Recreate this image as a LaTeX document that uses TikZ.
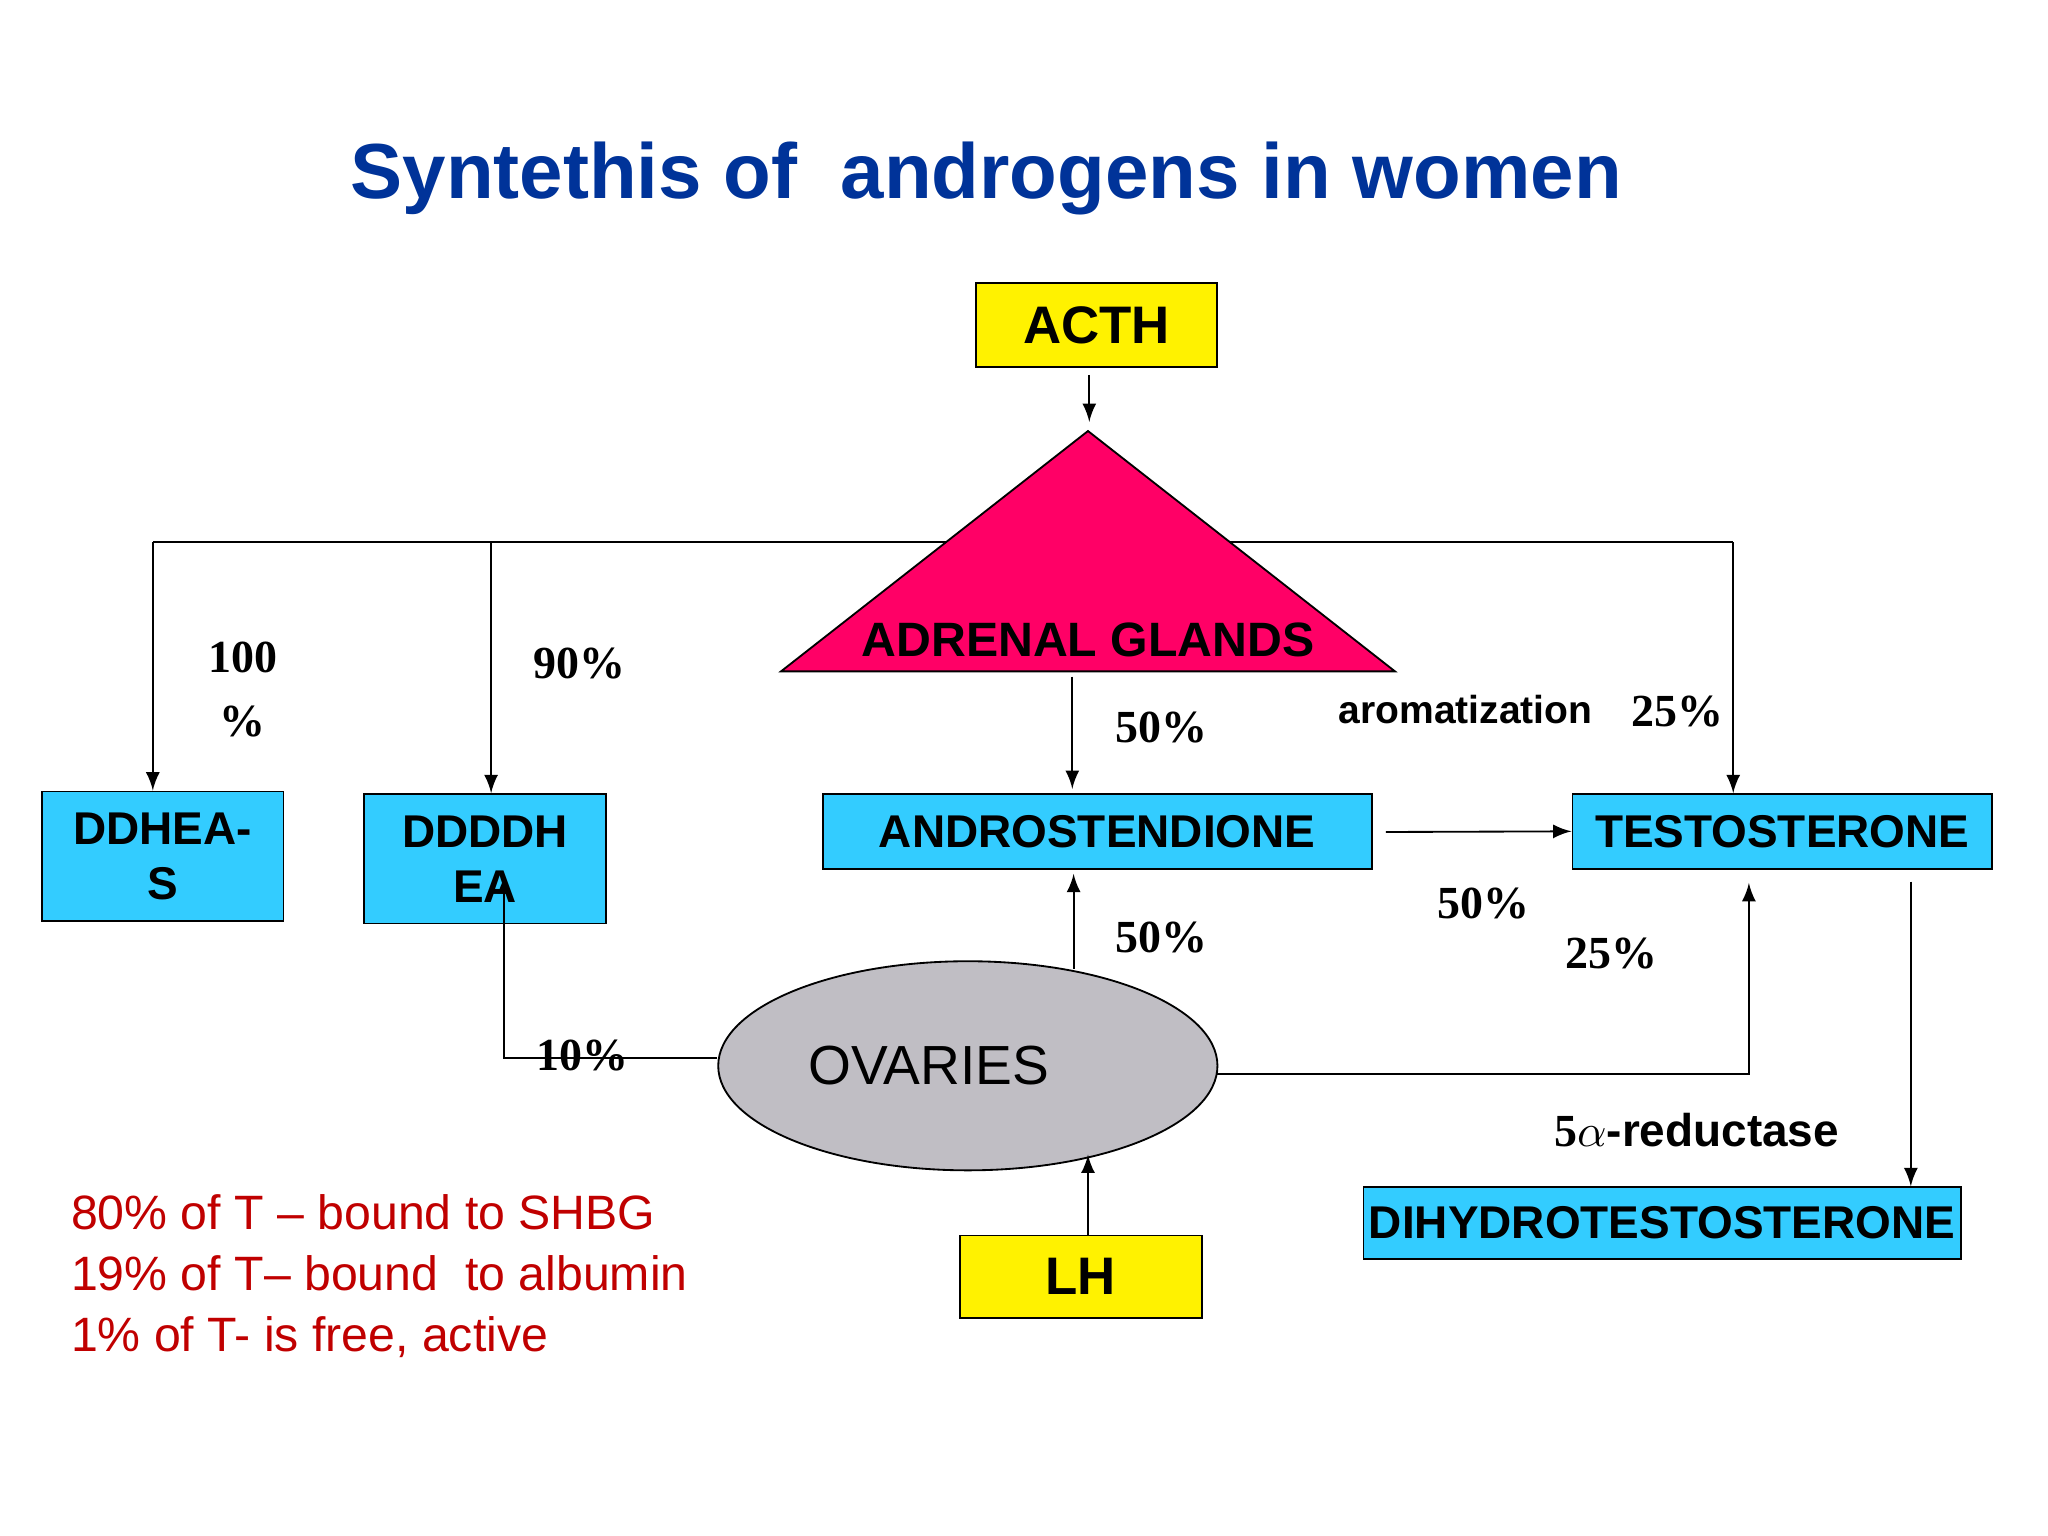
\documentclass[tikz,border=0pt]{standalone}
\usepackage{fontspec}
\usetikzlibrary{shapes.geometric}
\setmainfont{Liberation Serif}
\setsansfont{Liberation Sans}
\begin{document}
\begin{tikzpicture}[x=0.01cm,y=-0.01cm,
  box/.style={draw=black,fill=boxc,font=\sffamily\bfseries\fontsize{10}{12}\selectfont,align=center,inner sep=0pt},
  ybox/.style={draw=black,fill=yellow,font=\sffamily\bfseries\fontsize{11.5}{13}\selectfont,inner sep=0pt},
  pct/.style={font=\rmfamily\bfseries\fontsize{10}{12}\selectfont},
  arr/.style={-latex,black,thin},
  ln/.style={black,thin}]
\definecolor{tblue}{RGB}{0,51,153}
\definecolor{boxc}{RGB}{51,204,255}
\definecolor{pinkc}{RGB}{255,0,102}
\definecolor{grayc}{RGB}{192,190,196}
\definecolor{redc}{RGB}{192,0,0}
\useasboundingbox (0,0) rectangle (1568,1176);
\node[font=\sffamily\bfseries\fontsize{17}{20}\selectfont,text=tblue] (title) at (755,137) {Syntethis of\ \ androgens in women};
\node[ybox,minimum width=1.85cm,minimum height=0.64cm] (acth) at (839.5,249) {ACTH};
\coordinate (ha) at (117,415); \coordinate (hb) at (376,415); \coordinate (hc) at (1327,415);
\draw[ln] (ha) -- (hc);
\node[box,minimum width=1.85cm,minimum height=0.99cm] (ddheas) at (124.5,655.5) {DDHEA-\\S};
\node[box,minimum width=1.85cm,minimum height=0.99cm] (dddh) at (371.5,657.5) {DDDDH\\EA};
\node[box,minimum width=4.2cm,minimum height=0.57cm] (andro) at (840,636.5) {ANDROSTENDIONE};
\node[box,minimum width=3.21cm,minimum height=0.57cm] (testo) at (1364.5,636.5) {TESTOSTERONE};
\node[box,minimum width=4.57cm,minimum height=0.55cm] (dht) at (1272.5,936.5) {DIHYDROTESTOSTERONE};
\node[ybox,minimum width=1.85cm,minimum height=0.63cm] (lh) at (827.5,977.5) {LH};
\fill[pinkc,draw=black,thin] (833,330) -- (598,514) -- (1068,514) -- cycle;
\node[font=\sffamily\bfseries\fontsize{10.5}{12}\selectfont] (adr) at (833,490) {ADRENAL GLANDS};
\node[ellipse,draw=black,fill=grayc,minimum width=3.82cm,minimum height=1.6cm,inner sep=0pt,font=\sffamily\fontsize{12}{14}\selectfont] (ov) at (741,816) {\hspace{-0.6cm}OVARIES};
\draw[arr] (834,287) -- (834,323);
\draw[arr] (ha) -- (ddheas.north -| ha);
\draw[arr] (hb) -- (dddh.north -| hb);
\draw[arr] (hc) -- (testo.north -| hc);
\draw[arr] (821,518) -- (821,604);
\draw[arr] (822,742) -- (822,669);
\draw[arr] (1061,637) -- (testo.west);
\draw[arr] (932,822) -- (1339,822) -- (1339,676);
\draw[arr] (1463,675) -- (dht.north -| 1463,0);
\draw[arr] (lh.north -| 833,0) -- (833,884);
\draw[arr] (549,810) -- (386,810) -- (386,670);
\node[pct,align=center] at (186,528) {100\\[2pt]\%};
\node[pct] at (444,508) {90\%};
\node[pct] at (889,557) {50\%};
\node[font=\sffamily\bfseries\fontsize{8.5}{10}\selectfont] at (1122,543) {aromatization};
\node[pct] at (1284,545) {25\%};
\node[pct] at (889,718) {50\%};
\node[pct] at (1136,692) {50\%};
\node[pct] at (1234,730) {25\%};
\node[pct] at (446,808) {10\%};
\node[font=\bfseries\fontsize{10}{12}\selectfont] at (1299,865) {5$\alpha$\textsf{-reductase}};
\node[anchor=west,align=left,text=redc,font=\sffamily\fontsize{10.5}{13.3}\selectfont] (notes) at (42,977) {80\% of T -- bound to SHBG\\19\% of T-- bound\ \ to albumin\\1\% of T- is free, active};
\end{tikzpicture}
\end{document}
